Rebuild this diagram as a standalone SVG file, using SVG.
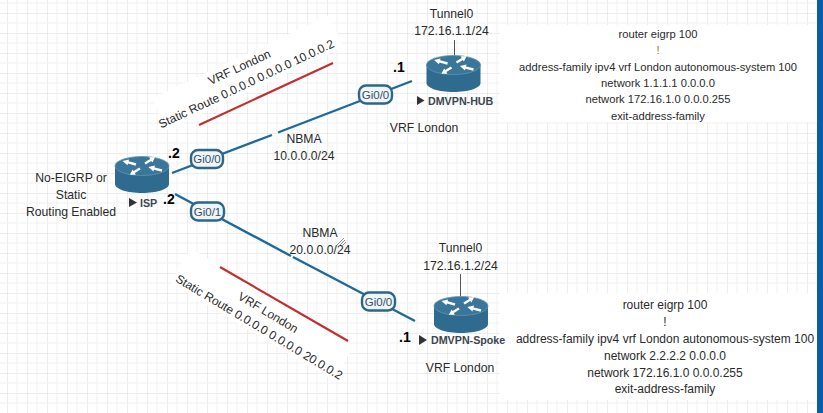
<svg xmlns="http://www.w3.org/2000/svg" width="823" height="413" viewBox="0 0 823 413">
<style>
text{font-family:"Liberation Sans",Arial,sans-serif;font-size:12px;fill:#2a2a2a;text-anchor:middle}
.big{font-size:12.2px}
.rot{font-size:12px}
.note{font-size:11.200px}
.note2{font-size:12px}
.ip{font-weight:bold;font-size:14px;fill:#000;text-anchor:start}
.nm{font-weight:bold;font-size:10.700px;fill:#3a4650;text-anchor:start}
.if{font-size:11.500px;fill:#33505f}
.pill{fill:#eef5f9;stroke:#2f6685;stroke-width:2.4}
.blue{stroke:#1b6a9f;stroke-width:2.400;fill:none}
.red{stroke:#c0302f;stroke-width:2.200;fill:none}
.stub{stroke:#555;stroke-width:1;fill:none}
.tri{fill:#333}
</style>
<defs>
<pattern id="grid" width="20" height="20" patternUnits="userSpaceOnUse" x="7" y="13">
<path d="M0 0H20M0 0V20" stroke="#dcdcdc" stroke-width="1" fill="none"/>
<path d="M0 10H20M10 0V20" stroke="#f1f1f1" stroke-width="1" fill="none"/>
</pattern>
<path id="arr" d="M0 -1.500H8V-3.800L14 0L8 3.800V1.500H0Z" fill="#fff"/>
<g id="router">
<path d="M-27 0V18C-27 23 -15 27 0 27S27 23 27 18V0Z" fill="#2f6b8e"/>
<ellipse cx="0" cy="0" rx="27" ry="9.500" fill="#3a7699" stroke="#5f94b2" stroke-width="0.800"/>
<use href="#arr" transform="translate(-6 -1.500) rotate(195) scale(1 .8)"/>
<use href="#arr" transform="translate(3 -2.500) rotate(-32) scale(.85 .8)"/>
<use href="#arr" transform="translate(-2 2.500) rotate(148) scale(.85 .8)"/>
<use href="#arr" transform="translate(20 4.500) rotate(194) scale(1 .8)"/>
</g>
</defs>
<rect width="823" height="413" fill="#fff"/>
<rect width="817" height="413" fill="url(#grid)"/>
<rect x="817" width="6" height="413" fill="#0b5ea6"/>
<rect x="500" y="25" width="317" height="97" fill="#fff"/>
<rect x="500" y="293" width="317" height="107" fill="#fff"/>
<rect x="150" y="55" width="195" height="35" fill="#fff" transform="rotate(-25.2 248 72)"/>
<rect x="165" y="295" width="190" height="40" fill="#fff" transform="rotate(31 262 318)"/>
<g id="connectors">
<path class="blue" d="M172 173L272 135M278 132.500L412 81"/>
<path class="blue" d="M175 194L291 256M293 257L415 321"/>
<path class="red" d="M199 125L333 63"/>
<path class="red" d="M220 267L348 341"/>
<path class="stub" d="M454.500 40V57M460.500 274V296"/>
</g>
<g id="isp">
<use href="#router" x="142" y="166"/>
<path class="tri" d="M129 198L137 202.500L129 207Z"/>
<text class="nm" x="140" y="207">ISP</text>
<text class="big" x="71" y="182">No-EIGRP or</text>
<text class="big" x="71" y="199">Static</text>
<text class="big" x="71" y="216">Routing Enabled</text>
<text class="ip" x="168" y="158">.2</text>
<text class="ip" x="163" y="204">.2</text>
<rect class="pill" x="191" y="150" width="32" height="18" rx="7"/>
<text class="if" x="207" y="163">Gi0/0</text>
<rect class="pill" x="191" y="202.500" width="33" height="18" rx="7"/>
<text class="if" x="207.500" y="215.500">Gi0/1</text>
</g>
<g id="hub">
<use href="#router" x="453.500" y="65"/>
<path class="tri" d="M417 96L424.500 100.500L417 105Z"/>
<text class="nm" x="428" y="104.500">DMVPN-HUB</text>
<text class="big" x="451.500" y="18">Tunnel0</text>
<text class="big" x="451.500" y="35">172.16.1.1/24</text>
<text class="big" x="424" y="132">VRF London</text>
<text class="ip" x="393" y="72">.1</text>
<rect class="pill" x="359" y="85.500" width="33" height="18" rx="7"/>
<text class="if" x="375.500" y="98.500">Gi0/0</text>
<g>
<text class="note" x="658" y="38">router eigrp 100</text>
<text class="note" x="658" y="54" style="fill:#8a7a30">!</text>
<text class="note" x="658" y="71">address-family ipv4 vrf London autonomous-system 100</text>
<text class="note" x="658" y="87">network 1.1.1.1 0.0.0.0</text>
<text class="note" x="658" y="103">network 172.16.1.0 0.0.0.255</text>
<text class="note" x="658" y="120">exit-address-family</text>
</g>
</g>
<g id="spoke">
<use href="#router" x="461" y="306"/>
<path class="tri" d="M419 335L427 340L419 345Z"/>
<text class="nm" x="431" y="344">DMVPN-Spoke</text>
<text class="big" x="460.500" y="252">Tunnel0</text>
<text class="big" x="460.500" y="270">172.16.1.2/24</text>
<text class="big" x="460" y="372">VRF London</text>
<text class="ip" x="399" y="342">.1</text>
<rect class="pill" x="362" y="292.500" width="33" height="18" rx="7"/>
<text class="if" x="378.500" y="305.500">Gi0/0</text>
<g>
<text class="note2" x="665" y="309">router eigrp 100</text>
<text class="note2" x="665" y="326">!</text>
<text class="note2" x="665" y="343">address-family ipv4 vrf London autonomous-system 100</text>
<text class="note2" x="665" y="360">network 2.2.2.2 0.0.0.0</text>
<text class="note2" x="665" y="377">network 172.16.1.0 0.0.0.255</text>
<text class="note2" x="665" y="393">exit-address-family</text>
</g>
</g>
<g id="labels">
<text class="big" x="304" y="143">NBMA</text>
<text class="big" x="304" y="160">10.0.0.0/24</text>
<text class="big" x="320" y="237">NBMA</text>
<text class="big" x="320" y="254">20.0.0.0/24</text>
<path d="M337 245L344 238M339 246L345 240M341 247L346 242" stroke="#777" stroke-width="0.800" fill="none"/>
<text class="rot" transform="translate(241 71) rotate(-25.200)">VRF London</text>
<text class="rot" transform="translate(248 87.500) rotate(-25.200)">Static Route 0.0.0.0 0.0.0.0 10.0.0.2</text>
<text class="rot" transform="translate(266 316) rotate(31)">VRF London</text>
<text class="rot" transform="translate(257 330.500) rotate(31)">Static Route 0.0.0.0 0.0.0.0 20.0.0.2</text>
</g>
</svg>
